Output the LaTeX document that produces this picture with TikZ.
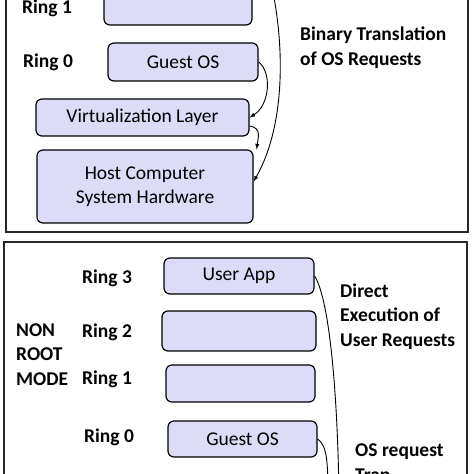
\documentclass[tikz,border=0pt]{standalone}
\usepackage{fontspec}
\setmainfont{Carlito}
\usetikzlibrary{arrows}
\definecolor{ringfill}{HTML}{DCDCF8}

\begin{document}
\begin{tikzpicture}[x=1pt,y=-1pt,
        ringbox/.style={draw, line width=1.2pt, rounded corners=6pt, fill=ringfill, inner sep=0pt, font=\fontsize{19.5}{24}\selectfont, align=center},
        ringlbl/.style={anchor=west, inner sep=0pt, font=\bfseries\fontsize{19.5}{24}\selectfont},
        note/.style={anchor=west, align=left, inner sep=0pt, font=\bfseries\fontsize{19.5}{24.5}\selectfont},
        frame/.style={draw, line width=1.6pt, black!85},
        flow/.style={-latex, line width=0.9pt}]
        \useasboundingbox (0,0) rectangle (474,474);
        % upper panel
        \draw[frame] (6,-20) rectangle (468,232);
        \node[ringbox, minimum width=148pt, minimum height=38pt] (rone) at (178,6) {};
        \node[ringbox, minimum width=150pt, minimum height=38pt] (guest) at (183,62) {Guest OS};
        \node[ringbox, minimum width=213pt, minimum height=37pt] (virt) at (142.5,117.5) {Virtualization Layer};
        \node[ringbox, minimum width=216pt, minimum height=73pt] (host) at (145,186.5) {Host Computer\\System Hardware};
        \node[ringlbl] (lone) at (22,8) {Ring 1};
        \node[ringlbl] (lzero) at (23,62) {Ring 0};
        \node[note] (binary) at (300,47.5) {Binary Translation\\of OS Requests};
        \coordinate (fromapp) at (268,-30);
        \draw[flow] (fromapp) .. controls (286,40) and (286,125) .. ([yshift=5pt]host.east);
        \draw[flow] (guest.east) .. controls (272,72) and (270,105) .. (virt.east);
        \draw[flow] ([yshift=-8.5pt]virt.east) .. controls (262,128) and (258,138) .. ([xshift=3pt]host.north east);
        % lower panel
        \draw[frame] (4,242) rectangle (467,500);
        \node[ringbox, minimum width=150pt, minimum height=36pt] (app) at (239,276) {User App};
        \node[ringbox, minimum width=154pt, minimum height=40pt] (rtwo) at (239,331) {};
        \node[ringbox, minimum width=149pt, minimum height=37pt] (roneb) at (240.5,383.5) {};
        \node[ringbox, minimum width=149pt, minimum height=36pt] (guestb) at (242.5,439) {Guest OS};
        \node[ringlbl] (lthree) at (82,278) {Ring 3};
        \node[ringlbl] (ltwo) at (82,332) {Ring 2};
        \node[ringlbl] (loneb) at (82,379) {Ring 1};
        \node[ringlbl] (lzerob) at (84,437) {Ring 0};
        \node[note] (mode) at (16,354.5) {NON\\ROOT\\MODE};
        \node[note] (direct) at (340,316.5) {Direct\\Execution of\\User Requests};
        \node[note] (trap) at (355,464) {OS request\\Trap};
        \coordinate (below1) at (339,500);
        \coordinate (below2) at (328,500);
        \draw[line width=0.9pt] (app.east) .. controls (330,300) and (338,400) .. (below1);
        \draw[line width=0.9pt] (guestb.east) .. controls (327,446) and (328,460) .. (below2);
\end{tikzpicture}
\end{document}
